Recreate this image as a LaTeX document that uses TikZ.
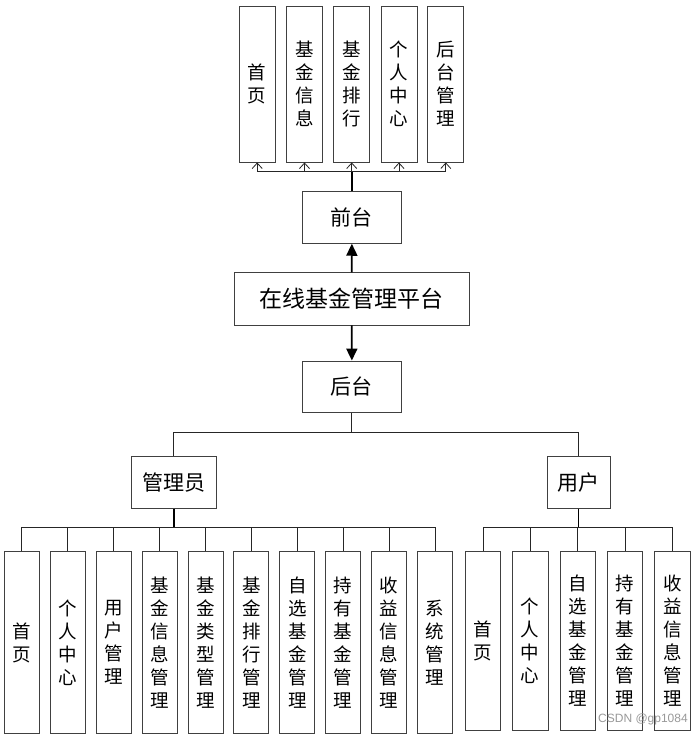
\documentclass[tikz,border=0pt]{standalone}
\usepackage{fontspec}
\setmainfont{Noto Sans CJK SC}
\newfontfamily\wmfont{Liberation Sans}
\usetikzlibrary{arrows.meta}
\tikzset{
  box/.style={draw=black!75, line width=0.9pt, fill=white, inner sep=0pt, align=center},
  vbox/.style={box, minimum width=35pt, font=\fontsize{18.5}{23}\selectfont},
  topbox/.style={vbox, minimum width=36pt, minimum height=156pt},
  admbox/.style={vbox, minimum height=181.6pt},
  usrbox/.style={vbox, minimum width=35.5pt, minimum height=178.3pt},
  hbox/.style={box, minimum height=52pt, font=\fontsize{21}{25}\selectfont},
  link/.style={draw=black!85, line width=0.9pt},
  boldlink/.style={draw=black, line width=1.8pt},
  openhead/.style={-{Straight Barb[length=5.5pt,width=10pt,line width=0.8pt]}},
  fillhead/.style={-{Triangle[length=12pt,width=11pt]}},
  wm/.style={text=black!40, font=\wmfont\fontsize{12}{14}\selectfont, inner sep=0pt}
}
\begin{document}
\begin{tikzpicture}[x=1pt,y=-1pt]
\useasboundingbox (0,0) rectangle (700,735);

% top boxes
\node[topbox] (t1) at (257.2,84) {首\\页};
\node[topbox] (t2) at (304.5,84) {基\\金\\信\\息};
\node[topbox] (t3) at (351.7,84) {基\\金\\排\\行};
\node[topbox] (t4) at (399,84) {个\\人\\中\\心};
\node[topbox] (t5) at (445.8,84) {后\\台\\管\\理};

% middle boxes
\node[hbox, minimum width=98.3pt, minimum height=51.6pt] (qt) at (351.85,217.5) {前台};
\node[hbox, minimum width=235pt, minimum height=52.3pt, font=\fontsize{23}{27}\selectfont] (pf) at (351.8,298.85) {在线基金管理平台};
\node[hbox, minimum width=98.3pt, minimum height=51.3pt] (ht) at (351.85,386.65) {后台};
\node[hbox, minimum width=85.7pt, minimum height=52.3pt] (adm) at (173.85,482.15) {管理员};
\node[hbox, minimum width=62.7pt, minimum height=52.3pt] (usr) at (578.65,482.15) {用户};

% admin children
\node[admbox] (a1) at (21.8,642.5) {首\\页};
\node[admbox] (a2) at (67.7,642.5) {个\\人\\中\\心};
\node[admbox] (a3) at (113.6,642.5) {用\\户\\管\\理};
\node[admbox] (a4) at (159.6,642.5) {基\\金\\信\\息\\管\\理};
\node[admbox] (a5) at (205.5,642.5) {基\\金\\类\\型\\管\\理};
\node[admbox] (a6) at (251.4,642.5) {基\\金\\排\\行\\管\\理};
\node[admbox] (a7) at (297.3,642.5) {自\\选\\基\\金\\管\\理};
\node[admbox] (a8) at (343.2,642.5) {持\\有\\基\\金\\管\\理};
\node[admbox] (a9) at (389.2,642.5) {收\\益\\信\\息\\管\\理};
\node[admbox] (a10) at (435.1,642.5) {系\\统\\管\\理};

% user children
\node[usrbox] (u1) at (483,640.85) {首\\页};
\node[usrbox] (u2) at (530.2,640.85) {个\\人\\中\\心};
\node[usrbox] (u3) at (577.7,640.85) {自\\选\\基\\金\\管\\理};
\node[usrbox] (u4) at (625,640.85) {持\\有\\基\\金\\管\\理};
\node[usrbox] (u5) at (672.5,640.85) {收\\益\\信\\息\\管\\理};

% bus coordinates
\coordinate (topbus) at (0,171.7);
\coordinate (midbus) at (0,432);
\coordinate (admbus) at (0,527.3);

% top connectors
\draw[boldlink] (qt.north) -- (qt.north |- topbus);
\draw[link] (t1.south |- topbus) -- (t5.south |- topbus);
\foreach \n in {t1,t2,t3,t4,t5}
  \draw[link, openhead] (\n.south |- topbus) -- (\n.south);

% platform arrows
\draw[boldlink, fillhead] (pf.north) -- (qt.south);
\draw[boldlink, fillhead] (pf.south) -- (ht.north);

% backend split
\draw[link] (ht.south) -- (ht.south |- midbus);
\draw[link] (adm.north) |- (usr.north |- midbus) -- (usr.north);

% admin bus
\draw[boldlink, line width=1.4pt] (adm.south) -- (adm.south |- admbus);
\draw[link] (a1.north) |- (a10.north |- admbus) -- (a10.north);
\foreach \n in {a2,a3,a4,a5,a6,a7,a8,a9}
  \draw[link] (\n.north |- admbus) -- (\n.north);

% user bus
\draw[boldlink, line width=1.4pt] (usr.south) -- (usr.south |- admbus);
\draw[link] (u1.north) |- (u5.north |- admbus) -- (u5.north);
\foreach \n in {u2,u3,u4}
  \draw[link] (\n.north |- admbus) -- (\n.north);

% watermark
\node[wm] (wmark) at (643,719.5) {CSDN @gp1084};
\end{tikzpicture}
\end{document}
